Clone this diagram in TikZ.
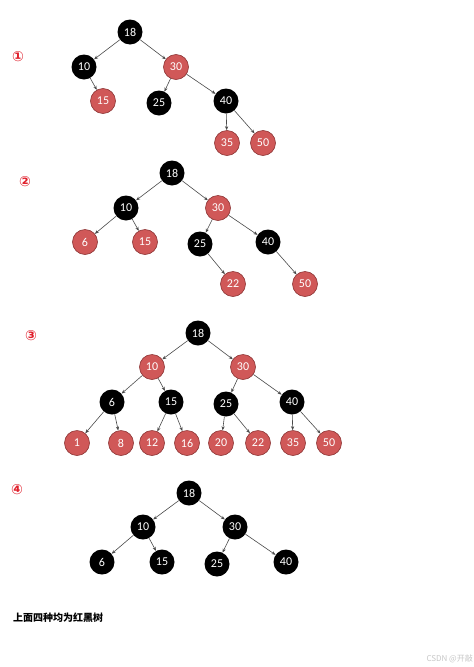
\documentclass[tikz,border=0pt]{standalone}
\usepackage{fontspec}
\setmainfont{Carlito}
\newfontfamily\cjk{Noto Sans CJK SC}
\newfontfamily\symf{DejaVu Sans}
\usetikzlibrary{arrows.meta}
\definecolor{rbred}{HTML}{D05858}
\definecolor{rbredline}{HTML}{8E3535}
\definecolor{labred}{HTML}{E0202C}
\definecolor{edgegray}{HTML}{4A4A4A}
\tikzset{
  rbnode/.style={circle, minimum size=25pt, inner sep=0pt, text=white, font=\fontsize{12}{12}\selectfont},
  blk/.style={rbnode, fill=black},
  red/.style={rbnode, fill=rbred, draw=rbredline, line width=0.6pt},
  edge/.style={draw=edgegray, line width=0.6pt, -{Stealth[length=4pt,width=3.2pt]}},
  numlab/.style={text=labred, font=\symf\bfseries\fontsize{14}{14}\selectfont},
}
\begin{document}
\begin{tikzpicture}[x=1pt,y=-1pt]
\useasboundingbox (0,0) rectangle (474,667);
\fill[white] (0,0) rectangle (474,667);
% ---------- Tree 1 ----------
\node[numlab] (l1) at (18,57) {①};
\node[blk] (a18) at (130,32) {18};
\node[blk] (a10) at (84,67) {10};
\node[red] (a30) at (176,67) {30};
\node[red] (a15) at (103,101) {15};
\node[blk] (a25) at (159,103) {25};
\node[blk] (a40) at (226,101) {40};
\node[red] (a35) at (227,143) {35};
\node[red] (a50) at (263,143) {50};
\draw[edge] (a18) -- (a10);
\draw[edge] (a18) -- (a30);
\draw[edge] (a10) -- (a15);
\draw[edge] (a30) -- (a25);
\draw[edge] (a30) -- (a40);
\draw[edge] (a40) -- (a35);
\draw[edge] (a40) -- (a50);
% ---------- Tree 2 ----------
\node[numlab] (l2) at (25,182) {②};
\node[blk] (b18) at (172,173) {18};
\node[blk] (b10) at (126,208) {10};
\node[red] (b30) at (218,208) {30};
\node[red] (b6) at (85,242) {6};
\node[red] (b15) at (145,242) {15};
\node[blk] (b25) at (200,244) {25};
\node[blk] (b40) at (268,242) {40};
\node[red] (b22) at (233,284) {22};
\node[red] (b50) at (305,284) {50};
\draw[edge] (b18) -- (b10);
\draw[edge] (b18) -- (b30);
\draw[edge] (b10) -- (b6);
\draw[edge] (b10) -- (b15);
\draw[edge] (b30) -- (b25);
\draw[edge] (b30) -- (b40);
\draw[edge] (b25) -- (b22);
\draw[edge] (b40) -- (b50);
% ---------- Tree 3 ----------
\node[numlab] (l3) at (31,336) {③};
\node[blk] (c18) at (198,333) {18};
\node[red] (c10) at (152,367) {10};
\node[red] (c30) at (243,367) {30};
\node[blk] (c6) at (112,402) {6};
\node[blk] (c15) at (171,402) {15};
\node[blk] (c25) at (226,404) {25};
\node[blk] (c40) at (292,402) {40};
\node[red] (c1) at (77,443) {1};
\node[red] (c8) at (121,443) {8};
\node[red] (c12) at (152,443) {12};
\node[red] (c16) at (187,443) {16};
\node[red] (c20) at (221,443) {20};
\node[red] (c22) at (258,443) {22};
\node[red] (c35) at (293,443) {35};
\node[red] (c50) at (329,443) {50};
\draw[edge] (c18) -- (c10);
\draw[edge] (c18) -- (c30);
\draw[edge] (c10) -- (c6);
\draw[edge] (c10) -- (c15);
\draw[edge] (c30) -- (c25);
\draw[edge] (c30) -- (c40);
\draw[edge] (c6) -- (c1);
\draw[edge] (c6) -- (c8);
\draw[edge] (c15) -- (c12);
\draw[edge] (c15) -- (c16);
\draw[edge] (c25) -- (c20);
\draw[edge] (c25) -- (c22);
\draw[edge] (c40) -- (c35);
\draw[edge] (c40) -- (c50);
% ---------- Tree 4 ----------
\node[numlab] (l4) at (17,490) {④};
\node[blk] (d18) at (189,493) {18};
\node[blk] (d10) at (143,527) {10};
\node[blk] (d30) at (235,527) {30};
\node[blk] (d6) at (102,562) {6};
\node[blk] (d15) at (162,562) {15};
\node[blk] (d25) at (217,564) {25};
\node[blk] (d40) at (286,562) {40};
\draw[edge] (d18) -- (d10);
\draw[edge] (d18) -- (d30);
\draw[edge] (d10) -- (d6);
\draw[edge] (d10) -- (d15);
\draw[edge] (d30) -- (d25);
\draw[edge] (d30) -- (d40);
% ---------- Caption ----------
\node[anchor=west, inner sep=0pt, font=\cjk\bfseries\fontsize{10}{10}\selectfont] (cap) at (13,618) {上面四种均为红黑树};
\node[anchor=east, inner sep=0pt, text=black!22, font=\cjk\fontsize{8}{8}\selectfont] (wm) at (473,659) {CSDN @开敲};
\end{tikzpicture}
\end{document}
